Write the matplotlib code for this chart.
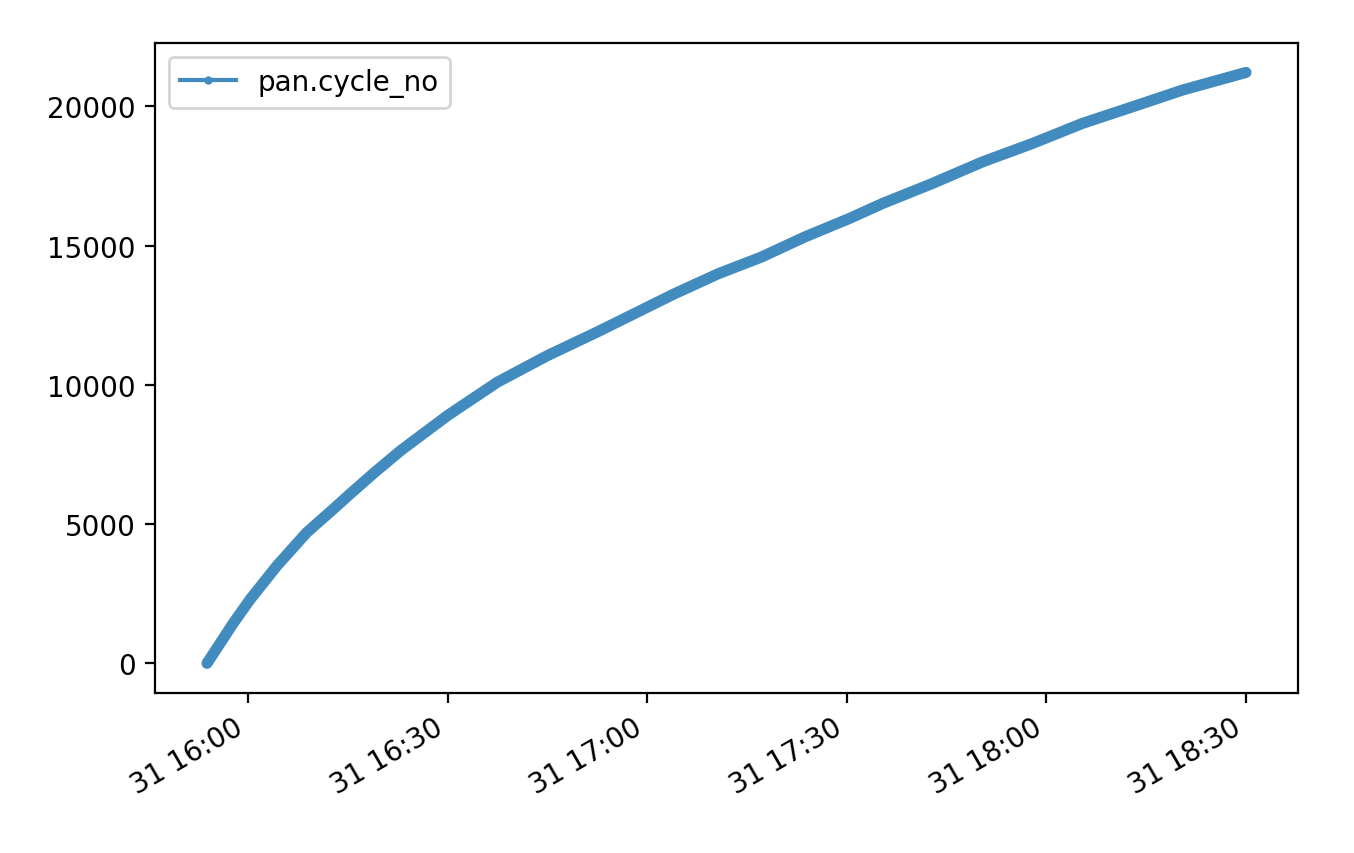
import matplotlib.pyplot as plt
import matplotlib.dates as mdates
from matplotlib.lines import Line2D
import pandas as pd

# Werte (Zeit, Zyklusnummer)
times = ["15:53:50", "15:57:50", "16:00:20", "16:04:20", "16:08:50", "16:12:55",
         "16:15:25", "16:19:00", "16:23:00", "16:30:00", "16:37:30", "16:45:00",
         "16:52:30", "16:58:35", "17:04:05", "17:10:40", "17:17:10", "17:23:40",
         "17:30:20", "17:35:20", "17:42:50", "17:50:25", "17:57:55", "18:05:25",
         "18:13:00", "18:20:30", "18:30:00"]
cycle_no = [0, 1460, 2300, 3500, 4700, 5560,
            6100, 6850, 7650, 8900, 10100, 11050,
            11900, 12620, 13270, 13990, 14590, 15310,
            15970, 16510, 17230, 18010, 18670, 19390,
            19990, 20590, 21220]

line_color = "#418bbf"


def make_plot():
    plt.switch_backend("Agg")
    x = pd.to_datetime(["2023-01-31 " + t for t in times])

    fig = plt.figure(figsize=(6.77, 4.27), dpi=200)
    ax = fig.add_axes([0.1145, 0.1875, 0.8441, 0.7611])
    ax.plot(x, cycle_no, "-", color=line_color, lw=4.0,
            solid_capstyle="round", solid_joinstyle="round")

    ax.xaxis.set_major_locator(mdates.MinuteLocator(byminute=[0, 30]))
    ax.xaxis.set_major_formatter(mdates.DateFormatter("%d %H:%M"))
    for lbl in ax.get_xticklabels():
        lbl.set_rotation(30)
        lbl.set_ha("right")

    handle = Line2D([], [], color=line_color, lw=1.5, marker=".", markersize=4)
    ax.legend([handle], ["pan.cycle_no"], loc="upper left")

    fig.savefig("out.png", dpi=200)
    plt.close(fig)


if __name__ == "__main__":
    make_plot()
